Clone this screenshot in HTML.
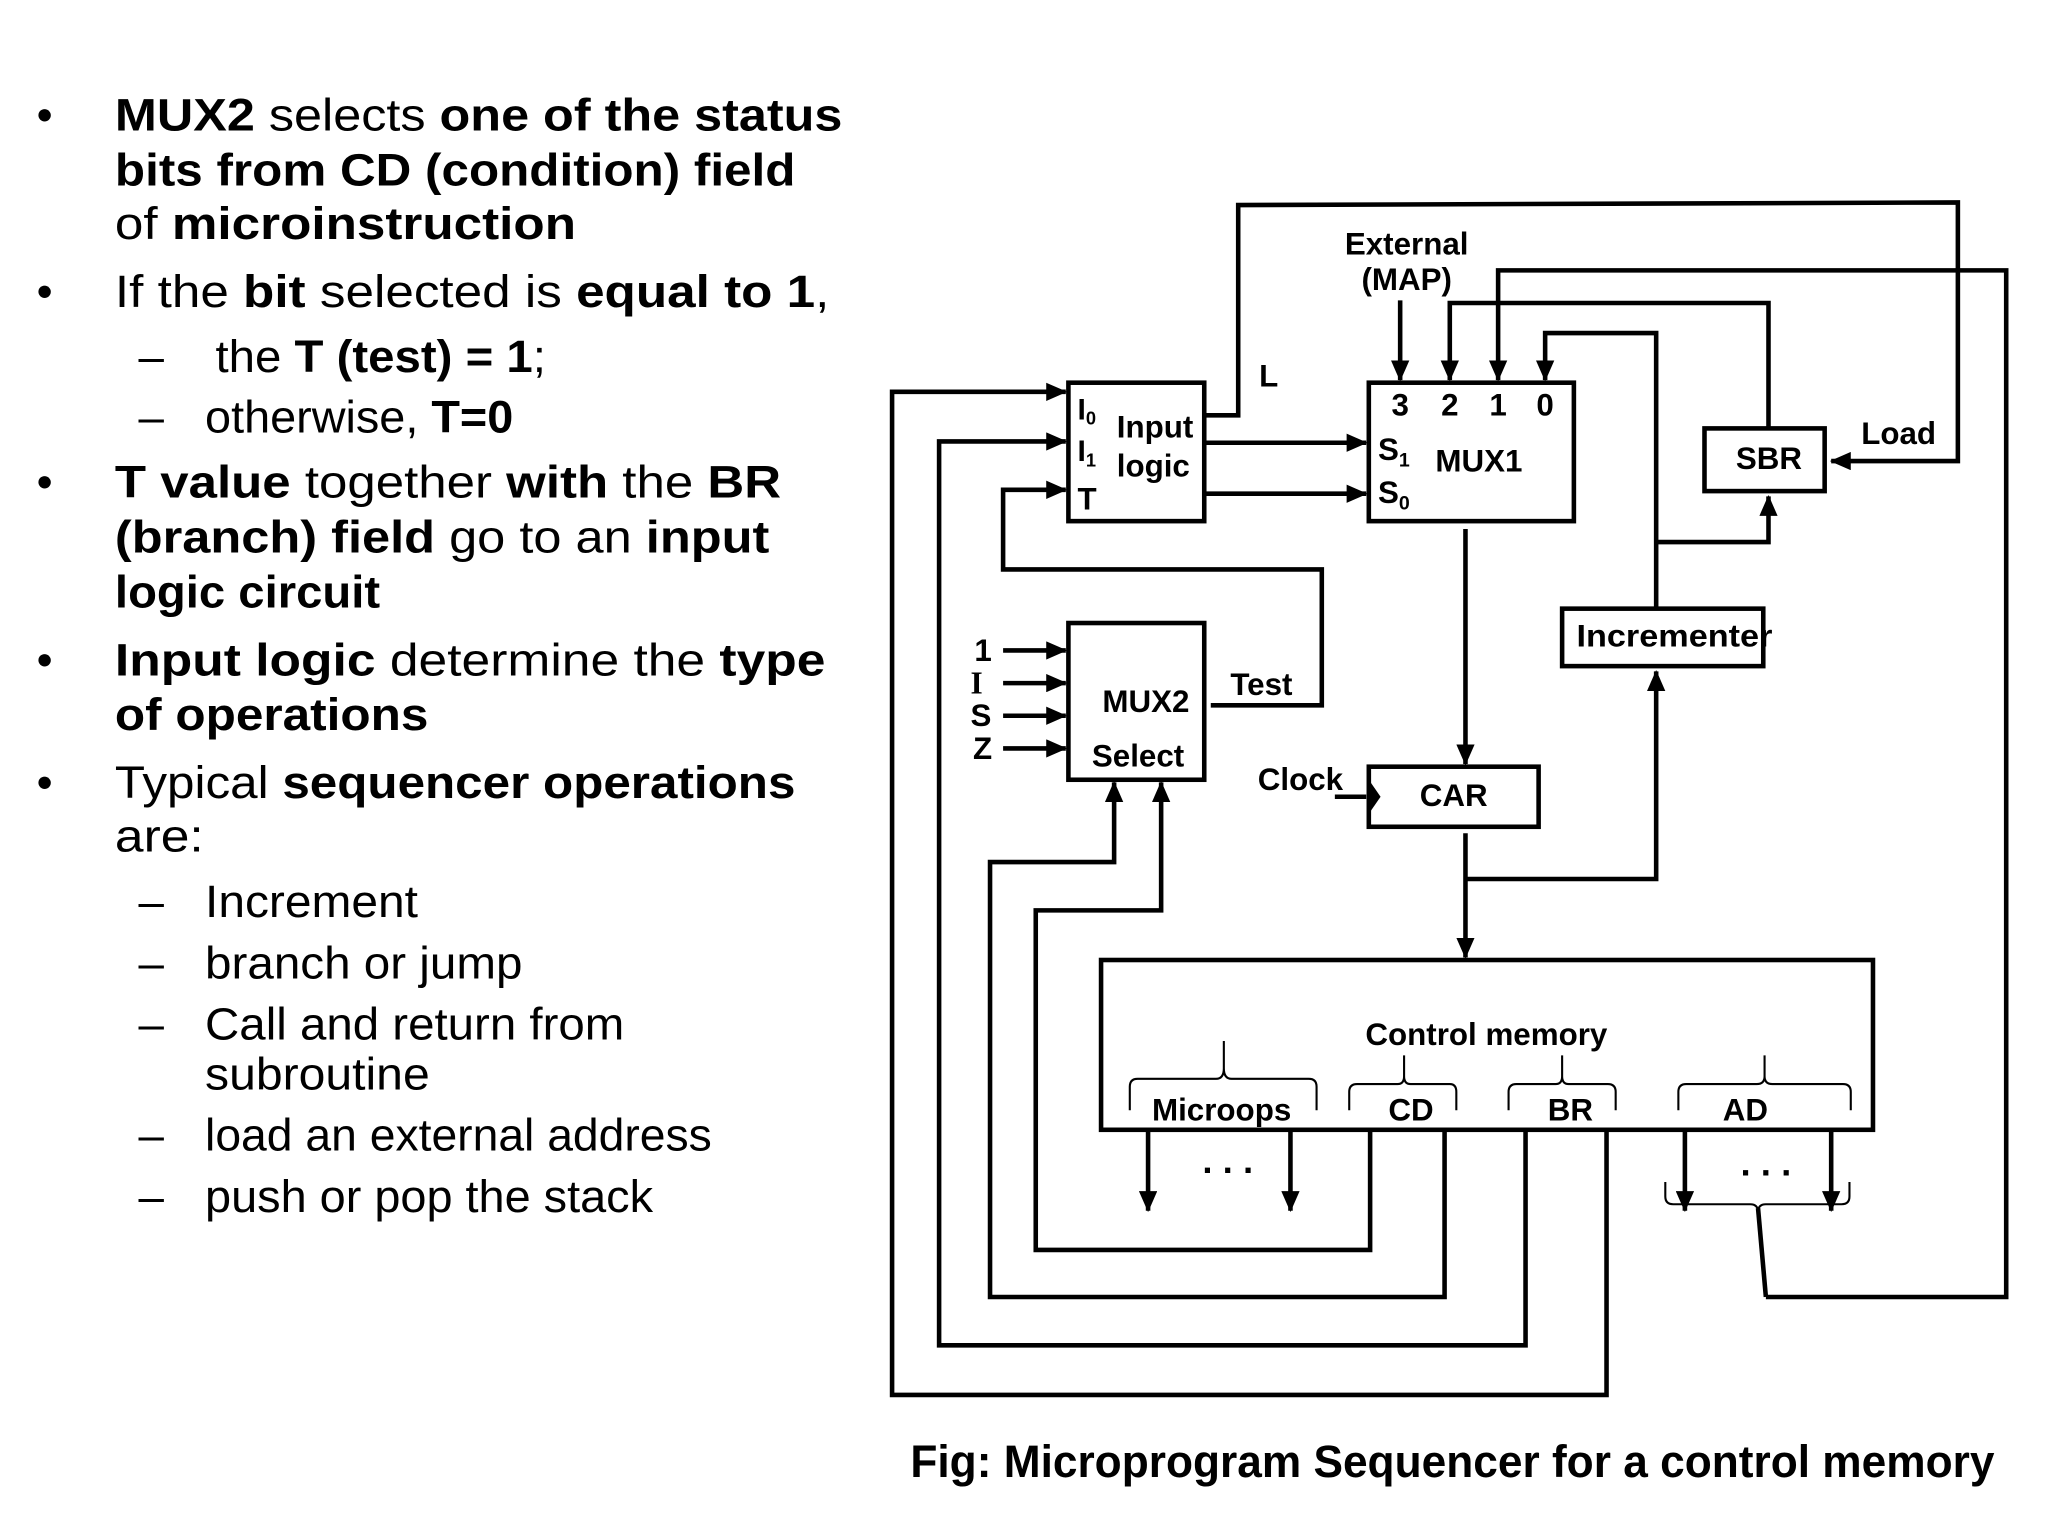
<!DOCTYPE html>
<html><head><meta charset="utf-8"><style>
html,body{margin:0;padding:0;background:#fff;}
svg{display:block;}
.t{font-family:"Liberation Sans",sans-serif;font-size:35px;fill:#000;}
.b{font-weight:bold;}
.d{font-family:"Liberation Sans",sans-serif;font-weight:bold;font-size:24px;fill:#000;}
.w{stroke:#000;stroke-width:3.5;fill:none;}
.br{stroke:#000;stroke-width:1.6;fill:none;}
</style></head><body>
<svg width="2048" height="1536" viewBox="0 0 1568 1176" xmlns="http://www.w3.org/2000/svg">
<defs>
<marker id="A" markerWidth="16" markerHeight="14" refX="15" refY="7" orient="auto" markerUnits="userSpaceOnUse"><path d="M0,0 L16,7 L0,14 z" fill="#000"/></marker></defs>
<g class="t">
<text x="28" y="100">•</text><text x="88" y="100" textLength="557" lengthAdjust="spacingAndGlyphs"><tspan class="b">MUX2</tspan> selects <tspan class="b">one of the status</tspan></text>
<text x="88" y="142" class="b" textLength="521" lengthAdjust="spacingAndGlyphs">bits from CD (condition) field</text>
<text x="88" y="183" textLength="353" lengthAdjust="spacingAndGlyphs">of  <tspan class="b">microinstruction</tspan></text>
<text x="28" y="235">•</text><text x="88" y="235" textLength="547" lengthAdjust="spacingAndGlyphs">If the <tspan class="b">bit</tspan> selected is <tspan class="b">equal to 1</tspan>,</text>
<text x="106" y="285">–</text><text x="165" y="285" textLength="253" lengthAdjust="spacingAndGlyphs">the <tspan class="b">T (test)  = 1</tspan>;</text>
<text x="106" y="331">–</text><text x="157" y="331" textLength="236" lengthAdjust="spacingAndGlyphs">otherwise, <tspan class="b">T=0</tspan></text>
<text x="28" y="381">•</text><text x="88" y="381" textLength="510" lengthAdjust="spacingAndGlyphs"><tspan class="b">T value</tspan> together <tspan class="b">with</tspan> the <tspan class="b">BR</tspan></text>
<text x="88" y="423" textLength="501" lengthAdjust="spacingAndGlyphs"><tspan class="b">(branch) field</tspan> go to an <tspan class="b">input</tspan></text>
<text x="88" y="465" class="b" textLength="203" lengthAdjust="spacingAndGlyphs">logic circuit</text>
<text x="28" y="517">•</text><text x="88" y="517" textLength="544" lengthAdjust="spacingAndGlyphs"><tspan class="b">Input logic</tspan> determine the <tspan class="b">type</tspan></text>
<text x="88" y="559" class="b" textLength="240" lengthAdjust="spacingAndGlyphs">of operations</text>
<text x="28" y="611">•</text><text x="88" y="611" textLength="521" lengthAdjust="spacingAndGlyphs">Typical <tspan class="b">sequencer operations</tspan></text>
<text x="88" y="652" textLength="68" lengthAdjust="spacingAndGlyphs">are:</text>
<text x="106" y="702">–</text><text x="157" y="702" textLength="163" lengthAdjust="spacingAndGlyphs">Increment</text>
<text x="106" y="749">–</text><text x="157" y="749" textLength="243" lengthAdjust="spacingAndGlyphs">branch or jump</text>
<text x="106" y="796">–</text><text x="157" y="796" textLength="321" lengthAdjust="spacingAndGlyphs">Call and return from</text>
<text x="157" y="834" textLength="172" lengthAdjust="spacingAndGlyphs">subroutine</text>
<text x="106" y="881">–</text><text x="157" y="881" textLength="388" lengthAdjust="spacingAndGlyphs">load an external address</text>
<text x="106" y="928">–</text><text x="157" y="928" textLength="343" lengthAdjust="spacingAndGlyphs">push or pop the stack</text>
<text x="697" y="1131" class="b" textLength="830" lengthAdjust="spacingAndGlyphs">Fig: Microprogram Sequencer for a control memory</text>
</g>
<g class="w">
<rect x="818" y="293" width="104" height="106"/>
<rect x="1048" y="293" width="157" height="106"/>
<rect x="1305" y="328" width="92" height="48"/>
<rect x="1196" y="466" width="154" height="44"/>
<rect x="818" y="477" width="104" height="120"/>
<rect x="1048" y="587" width="130" height="46"/>
<rect x="843" y="735" width="591" height="130"/>
</g>
<g class="w">
<polyline points="922,318 948,318 948,157 1499,155 1499,353 1402,353" marker-end="url(#A)"/>
<line x1="922" y1="339" x2="1046" y2="339" marker-end="url(#A)"/>
<line x1="922" y1="378" x2="1046" y2="378" marker-end="url(#A)"/>
<line x1="1072" y1="230" x2="1072" y2="291" marker-end="url(#A)"/>
<polyline points="1354,328 1354,232 1110,232 1110,291" marker-end="url(#A)"/>
<polyline points="1352,993 1536,993 1536,207 1147,207 1147,291" marker-end="url(#A)"/>
<polyline points="1268,466 1268,255 1183,255 1183,291" marker-end="url(#A)"/>
<polyline points="1268,415 1354,415 1354,380" marker-end="url(#A)"/>
<line x1="1352" y1="993" x2="1346" y2="925"/>
<line x1="1122" y1="405" x2="1122" y2="585" marker-end="url(#A)"/>
<line x1="1122" y1="638" x2="1122" y2="733" marker-end="url(#A)"/>
<polyline points="1122,673 1268,673 1268,514" marker-end="url(#A)"/>
<line x1="1022" y1="610" x2="1046" y2="610"/>
<polyline points="1049,865 1049,957 793,957 793,697 889,697 889,599" marker-end="url(#A)"/>
<polyline points="1106,865 1106,993 758,993 758,660 853,660 853,599" marker-end="url(#A)"/>
<polyline points="1168,865 1168,1030 719,1030 719,338 816,338" marker-end="url(#A)"/>
<polyline points="1230,865 1230,1068 683,1068 683,300 816,300" marker-end="url(#A)"/>
<polyline points="927,540 1012,540 1012,436 768,436 768,375 816,375" marker-end="url(#A)"/>
<line x1="768" y1="498" x2="816" y2="498" marker-end="url(#A)"/>
<line x1="768" y1="523" x2="816" y2="523" marker-end="url(#A)"/>
<line x1="768" y1="548" x2="816" y2="548" marker-end="url(#A)"/>
<line x1="768" y1="573" x2="816" y2="573" marker-end="url(#A)"/>
<line x1="879" y1="865" x2="879" y2="927" marker-end="url(#A)"/>
<line x1="988" y1="865" x2="988" y2="927" marker-end="url(#A)"/>
<line x1="1290" y1="865" x2="1290" y2="927" marker-end="url(#A)"/>
<line x1="1402" y1="865" x2="1402" y2="927" marker-end="url(#A)"/>
</g>
<path d="M1048,597 L1057,610 L1048,623 z" fill="#000"/>
<g class="br">
<path d="M865,850 V832 Q865,826 871,826 H931 Q937,826 937,818 V797 M937,818 Q937,826 943,826 H1002 Q1008,826 1008,832 V850"/>
<path d="M1033,850 V836 Q1033,830 1039,830 H1070 Q1075,830 1075,824 V808 M1075,824 Q1075,830 1080,830 H1110 Q1115,830 1115,836 V850"/>
<path d="M1155,850 V836 Q1155,830 1161,830 H1191 Q1196,830 1196,824 V808 M1196,824 Q1196,830 1201,830 H1231 Q1237,830 1237,836 V850"/>
<path d="M1285,850 V836 Q1285,830 1291,830 H1345 Q1351,830 1351,824 V808 M1351,824 Q1351,830 1357,830 H1411 Q1417,830 1417,836 V850"/>
<path d="M1275,905 V916 Q1275,922 1281,922 H1340 Q1346,922 1346,928 M1346,928 Q1346,922 1352,922 H1410 Q1416,922 1416,916 V905"/>
</g>
<g class="d">
<text x="825" y="321" font-size="23">I<tspan font-size="14" dy="4">0</tspan></text>
<text x="855" y="335">Input</text>
<text x="825" y="353" font-size="23">I<tspan font-size="14" dy="4">1</tspan></text>
<text x="855" y="365">logic</text>
<text x="825" y="390">T</text>
<text x="964" y="296">L</text>
<text x="1077" y="195" text-anchor="middle">External</text>
<text x="1077" y="222" text-anchor="middle">(MAP)</text>
<text x="1072" y="318" text-anchor="middle">3</text>
<text x="1110" y="318" text-anchor="middle">2</text>
<text x="1147" y="318" text-anchor="middle">1</text>
<text x="1183" y="318" text-anchor="middle">0</text>
<text x="1055" y="352">S<tspan font-size="15" dy="5">1</tspan></text>
<text x="1099" y="361">MUX1</text>
<text x="1055" y="385">S<tspan font-size="15" dy="5">0</tspan></text>
<text x="1329" y="359">SBR</text>
<text x="1425" y="340">Load</text>
<text x="1207" y="495" textLength="150" lengthAdjust="spacingAndGlyphs">Incrementer</text>
<text x="746" y="506">1</text>
<text x="743" y="531" font-family="Liberation Serif">I</text>
<text x="743" y="556">S</text>
<text x="745" y="581">Z</text>
<text x="844" y="545">MUX2</text>
<text x="836" y="587">Select</text>
<text x="942" y="532">Test</text>
<text x="963" y="605">Clock</text>
<text x="1087" y="617">CAR</text>
<text x="1138" y="800" text-anchor="middle">Control memory</text>
<text x="882" y="858">Microops</text>
<text x="1063" y="858">CD</text>
<text x="1185" y="858">BR</text>
<text x="1319" y="858">AD</text>
<text x="940" y="898" text-anchor="middle" font-size="28">. . .</text>
<text x="1352" y="900" text-anchor="middle" font-size="28">. . .</text>
</g>
</svg>
</body></html>
